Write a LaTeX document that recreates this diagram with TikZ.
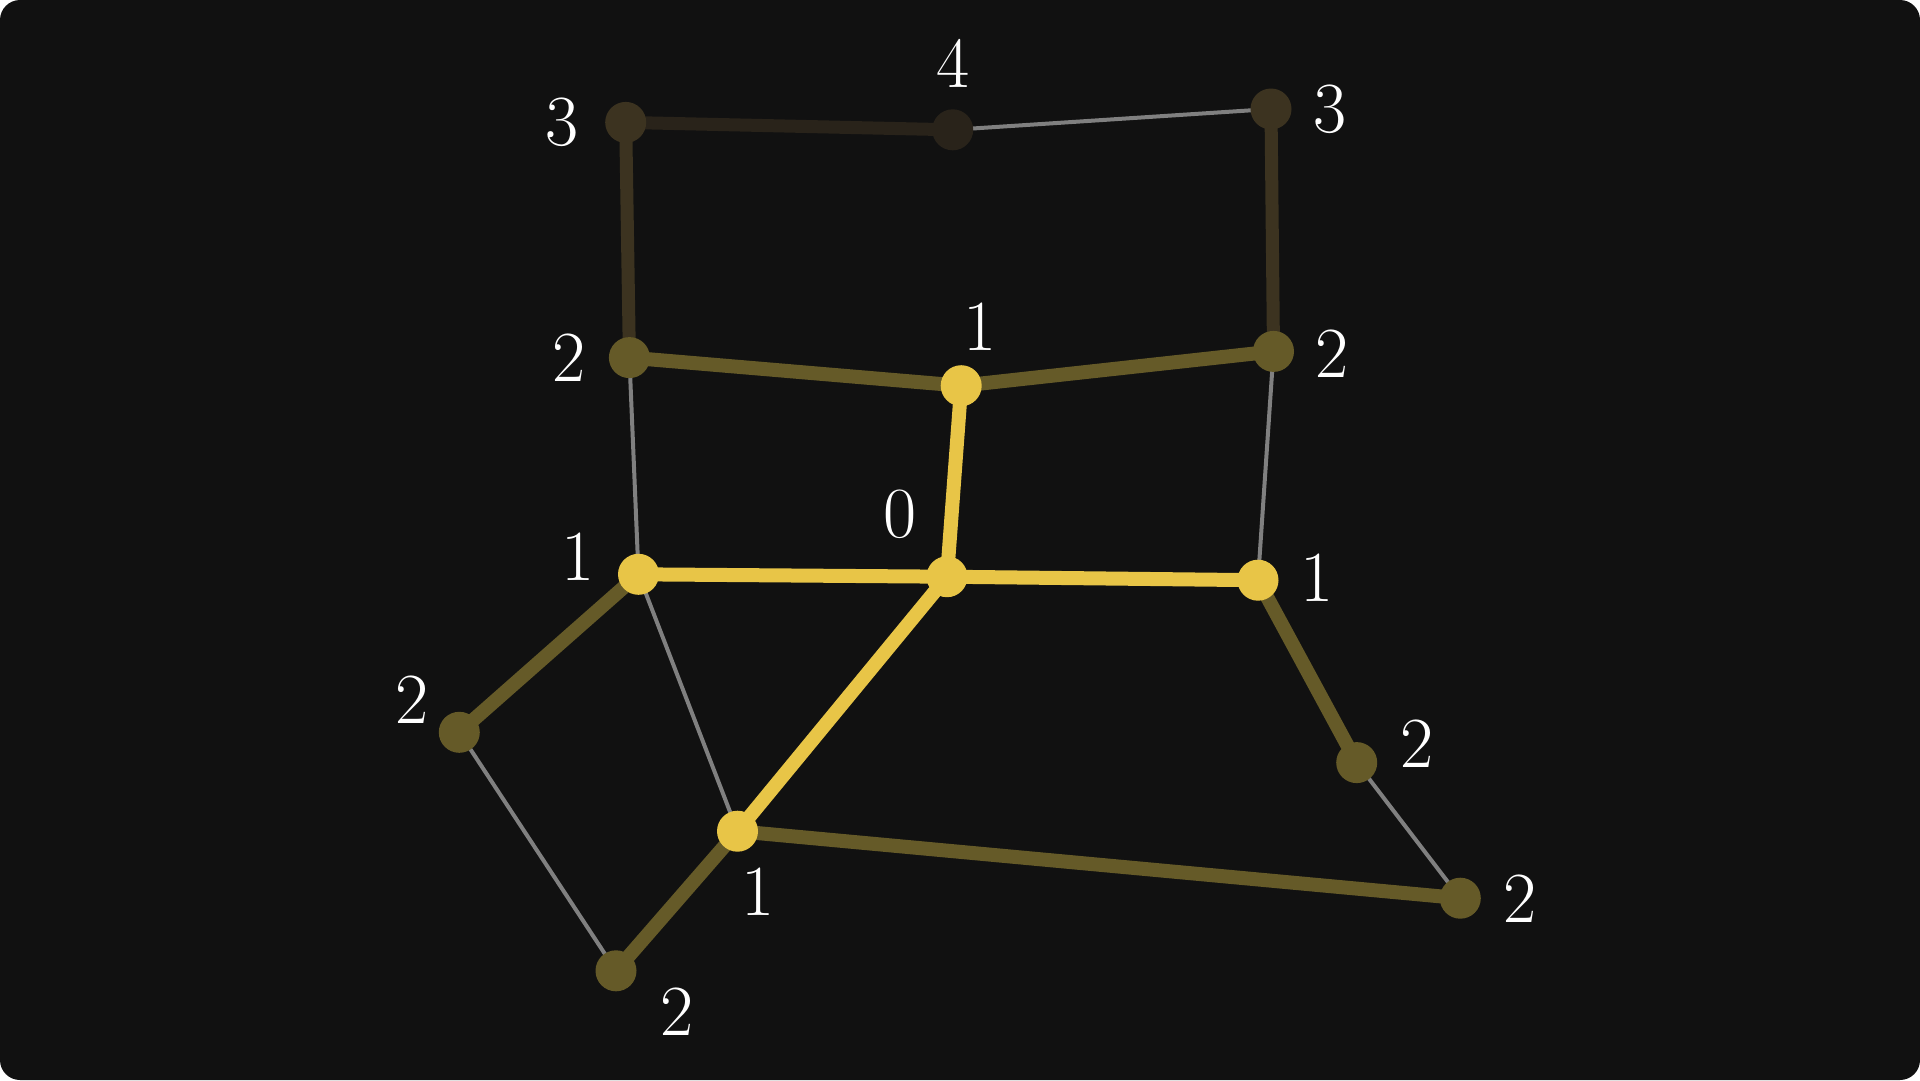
\documentclass[tikz,border=0pt]{standalone}
\definecolor{bgc}{HTML}{111111}
\definecolor{yel}{HTML}{E8C547}
\definecolor{oli}{HTML}{655A28}
\definecolor{drk}{HTML}{3C3320}
\definecolor{drker}{HTML}{29231A}
\definecolor{gry}{HTML}{808080}
\pgfdeclarelayer{backdrop}
\pgfdeclarelayer{edgelayer}
\pgfsetlayers{backdrop,edgelayer,main}
\tikzset{
  vtx/.style={circle,minimum size=41pt,inner sep=0pt,draw=none},
  lvl0/.style={vtx,fill=yel},
  lvl1/.style={vtx,fill=yel},
  lvl2/.style={vtx,fill=oli},
  lvl3/.style={vtx,fill=drk},
  lvl4/.style={vtx,fill=drker},
  lab/.style={text=white,inner sep=0pt,font=\fontsize{72}{80}\selectfont},
  ey/.style={draw=yel,line width=14pt},
  eo/.style={draw=oli,line width=14pt},
  ed/.style={draw=drk,line width=13pt},
  edd/.style={draw=drker,line width=13pt},
  eg/.style={draw=gry,line width=4pt},
}
\begin{document}
\begin{tikzpicture}[x=1pt,y=-1pt]
\useasboundingbox (0,0) rectangle (1920,1080);
\begin{pgfonlayer}{backdrop}
\fill[bgc,rounded corners=20pt] (0,0) rectangle (1920,1080);
\end{pgfonlayer}
% vertices
\node[lvl3] (a3l) at (625.7,122.4) {};
\node[lvl4] (a4)  at (952.7,129.8) {};
\node[lvl3] (a3r) at (1271.0,109.0) {};
\node[lvl2] (b2l) at (629.4,357.6) {};
\node[lvl1] (b1)  at (961.2,385.7) {};
\node[lvl2] (b2r) at (1273.5,351.4) {};
\node[lvl1] (c1l) at (638.5,574.3) {};
\node[lvl0] (c0)  at (947.0,576.7) {};
\node[lvl1] (c1r) at (1258.0,580.2) {};
\node[lvl2] (d2l) at (459.3,732.3) {};
\node[lvl1] (d1)  at (737.5,831.2) {};
\node[lvl2] (d2r) at (1356.7,762.6) {};
\node[lvl2] (e2l) at (616.0,970.8) {};
\node[lvl2] (e2r) at (1460.3,898.2) {};
% edges
\begin{pgfonlayer}{edgelayer}
\draw[edd] (a3l.center) -- (a4.center);
\draw[eg]  (a4.center) -- (a3r.center);
\draw[ed]  (a3l.center) -- (b2l.center);
\draw[ed]  (a3r.center) -- (b2r.center);
\draw[eo]  (b2l.center) -- (b1.center);
\draw[eo]  (b1.center) -- (b2r.center);
\draw[eg]  (b2l.center) -- (c1l.center);
\draw[eg]  (b2r.center) -- (c1r.center);
\draw[ey]  (b1.center) -- (c0.center);
\draw[ey]  (c1l.center) -- (c0.center);
\draw[ey]  (c0.center) -- (c1r.center);
\draw[ey]  (c0.center) -- (d1.center);
\draw[eo]  (c1l.center) -- (d2l.center);
\draw[eg]  (c1l.center) -- (d1.center);
\draw[eo]  (c1r.center) -- (d2r.center);
\draw[eg]  (d2l.center) -- (e2l.center);
\draw[eo]  (d1.center) -- (e2l.center);
\draw[eo]  (d1.center) -- (e2r.center);
\draw[eg]  (d2r.center) -- (e2r.center);
\end{pgfonlayer}
% labels
\node[lab] (la3l) at (562.0,122.4) {3};
\node[lab] (la4)  at (952.7,63.7) {4};
\node[lab] (la3r) at (1329.8,109.0) {3};
\node[lab] (lb2l) at (569.4,357.6) {2};
\node[lab] (lb1)  at (979.6,327.0) {1};
\node[lab] (lb2r) at (1332.3,353.9) {2};
\node[lab] (lc1l) at (578.0,557.0) {1};
\node[lab] (lc0)  at (900.0,514.3) {0};
\node[lab] (lc1r) at (1317.3,577.7) {1};
\node[lab] (ld2l) at (412.3,699.3) {2};
\node[lab] (ld1)  at (757.7,891.7) {1};
\node[lab] (ld2r) at (1416.7,743.3) {2};
\node[lab] (le2l) at (676.7,1011.7) {2};
\node[lab] (le2r) at (1520.0,898.3) {2};
\end{tikzpicture}
\end{document}
